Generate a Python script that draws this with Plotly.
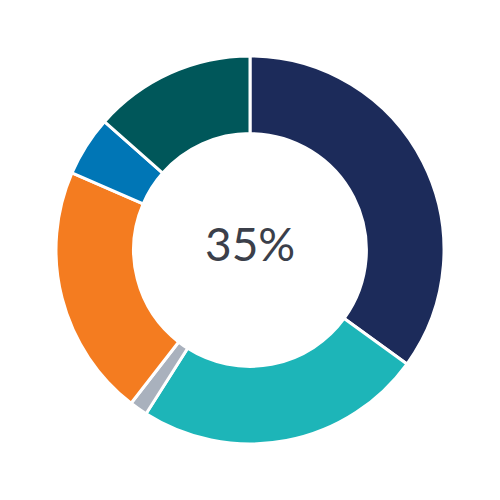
import plotly.graph_objects as go

# slice shares, clockwise from 12 o'clock
labels = ['Navy', 'Teal', 'Gray', 'Orange', 'Blue', 'Dark green']
values = [35, 24, 1.5, 21, 5, 13.5]
colors = ['#1c2b5a', '#1db5b8', '#a9b1bd', '#f47c20', '#0076b6', '#00575a']
center_label = '35%'

fig = go.Figure()
fig.add_trace(go.Pie(
    labels=labels,
    values=values,
    hole=0.6,
    sort=False,
    direction='clockwise',
    rotation=0,
    marker=dict(colors=colors, line=dict(color='white', width=3)),
    textinfo='none',
    hoverinfo='label+percent',
    showlegend=False
))

fig.add_annotation(
    text=center_label, x=0.5, y=0.5, xref='paper', yref='paper', yshift=7,
    showarrow=False, font=dict(family='Lato', size=46, color='#3b3f4a')
)

# page body adds an 8px offset, so the margins are uneven to keep the ring centred
fig.update_layout(
    width=500, height=500,
    margin=dict(l=48, r=64, t=48, b=64),
    paper_bgcolor='white',
    plot_bgcolor='white'
)

fig.write_html("out.html")
